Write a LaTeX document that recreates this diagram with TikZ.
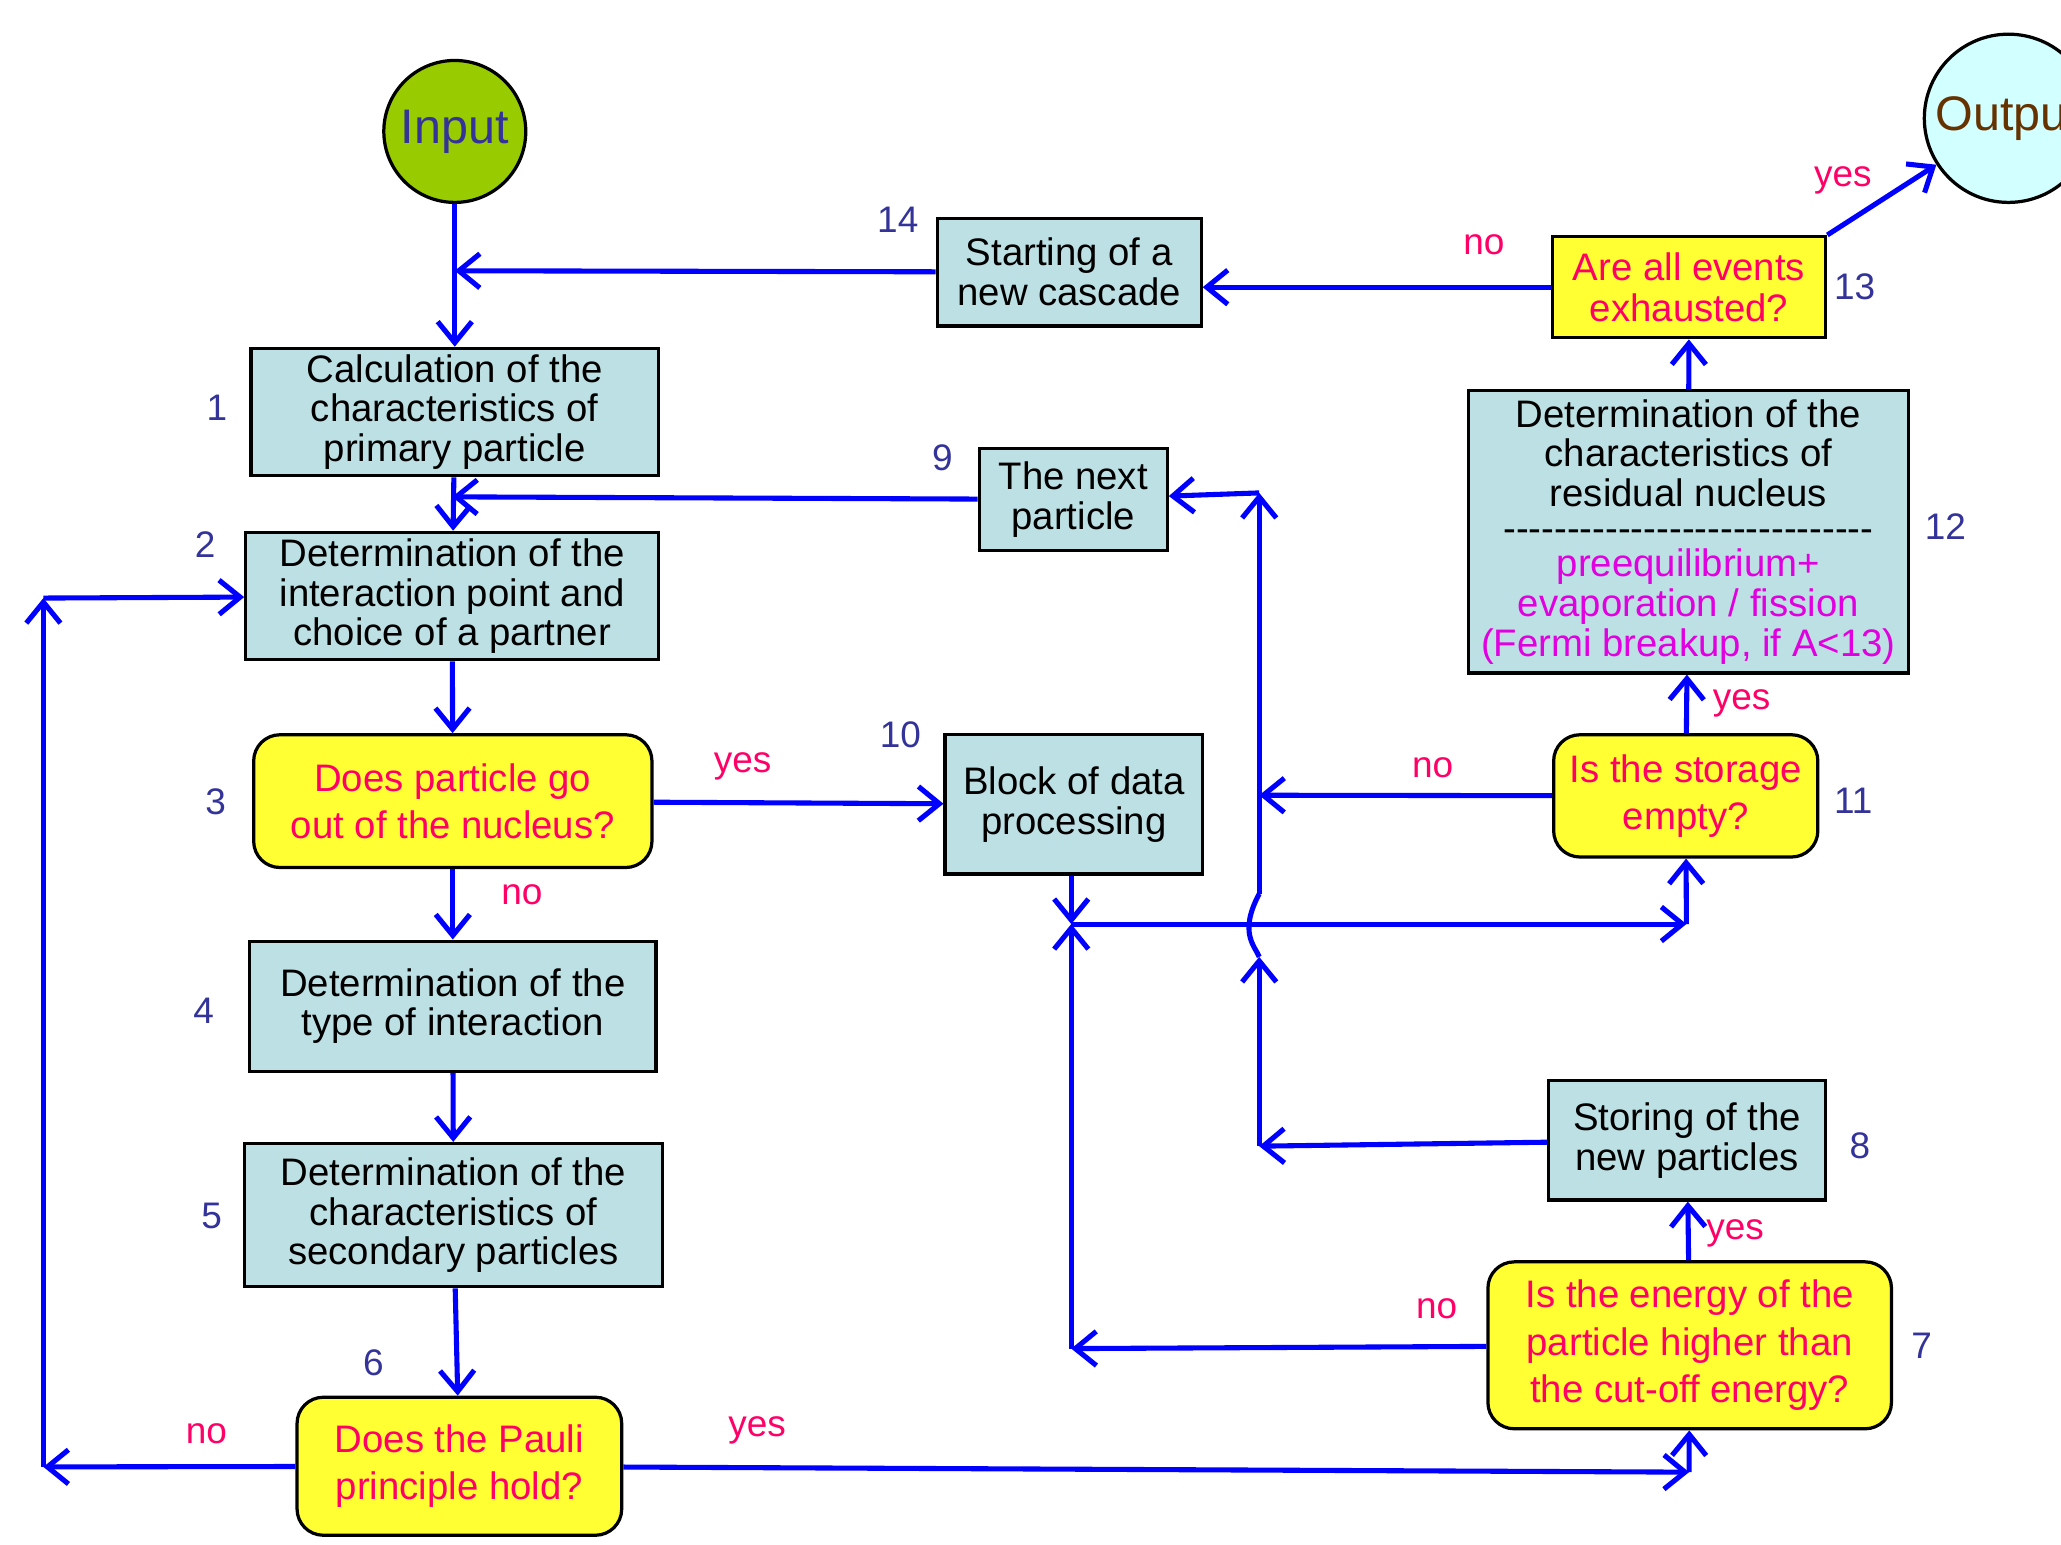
\documentclass[tikz,border=0pt]{standalone}
\usepackage{fontspec}
\setmainfont{Liberation Sans}
\usetikzlibrary{arrows.meta}
\definecolor{boxfill}{HTML}{BCE0E3}
\definecolor{decfill}{HTML}{FFFF33}
\definecolor{lblred}{HTML}{FF0066}
\definecolor{numblue}{HTML}{333399}
\definecolor{lineblue}{HTML}{0000FF}
\definecolor{magtext}{HTML}{E000E0}
\tikzset{
 box/.style={draw=black, line width=0.7pt, fill=boxfill, align=center, inner sep=0pt, font=\fontsize{8.3}{8.6}\selectfont},
 dec/.style={draw=black, line width=0.7pt, fill=decfill, rounded corners=0.2cm, align=center, inner sep=0pt, text=lblred, font=\fontsize{8.3}{10.3}\selectfont},
 num/.style={text=numblue, font=\fontsize{8}{9}\selectfont},
 lbl/.style={text=lblred, font=\fontsize{8}{9}\selectfont},
 conn/.style={draw=lineblue, line width=1.1pt, -{Straight Barb[length=1.6mm,width=2.6mm]}},
 plain/.style={draw=lineblue, line width=1.1pt},
}
\begin{document}
\begin{tikzpicture}
\useasboundingbox (0,0) rectangle (15.68,-11.75);
\node[circle, draw=black, line width=0.7pt, fill={rgb,255:red,153;green,204;blue,0}, minimum size=1.08cm, inner sep=0pt, text=numblue, font=\fontsize{10.5}{12}\selectfont] (in) at (3.46,-1.00) {Input};
\node[circle, draw=black, line width=0.7pt, fill={rgb,255:red,210;green,255;blue,255}, minimum size=1.28cm, inner sep=0pt, text={rgb,255:red,102;green,51;blue,0}, font=\fontsize{10.5}{12}\selectfont] (out) at (15.28,-0.90) {Output};

\node[box, minimum width=3.10cm, minimum height=0.97cm] (b1) at (3.46,-3.135) {Calculation of the\\characteristics of\\primary particle};
\node[box, minimum width=3.14cm, minimum height=0.97cm] (b2) at (3.44,-4.535) {Determination of the\\interaction point and\\choice of a partner};
\node[dec, minimum width=3.03cm, minimum height=1.01cm] (d3) at (3.445,-6.095) {Does particle go\\out of the nucleus?};
\node[box, minimum width=3.09cm, minimum height=0.99cm] (b4) at (3.445,-7.655) {Determination of the\\type of interaction};
\node[box, minimum width=3.18cm, minimum height=1.09cm] (b5) at (3.45,-9.245) {Determination of the\\characteristics of\\secondary particles};
\node[dec, minimum width=2.47cm, minimum height=1.05cm] (d6) at (3.495,-11.155) {Does the Pauli\\principle hold?};
\node[box, minimum width=1.96cm, minimum height=1.06cm] (b10) at (8.17,-6.12) {Block of data\\processing};
\node[box, minimum width=1.43cm, minimum height=0.78cm] (b9) at (8.165,-3.80) {The next\\particle};
\node[box, minimum width=2.01cm, minimum height=0.82cm] (b14) at (8.135,-2.07) {Starting of a\\new cascade};
\node[dec, rounded corners=0pt, minimum width=2.08cm, minimum height=0.77cm, font=\fontsize{8.3}{9}\selectfont] (d13) at (12.85,-2.185) {Are all events\\exhausted?};
\node[box, minimum width=3.35cm, minimum height=2.15cm] (b12) at (12.845,-4.045) {Determination of the\\characteristics of\\residual nucleus\\[-1pt]-{}-{}-{}-{}-{}-{}-{}-{}-{}-{}-{}-{}-{}-{}-{}-{}-{}-{}-{}-{}-{}-{}-{}-{}-{}-{}-{}-{}-\\[-1pt]\textcolor{magtext}{preequilibrium+}\\\textcolor{magtext}{evaporation / fission}\\\textcolor{magtext}{(Fermi breakup, if A<13)}};
\node[dec, minimum width=2.01cm, minimum height=0.93cm] (d11) at (12.825,-6.055) {Is the storage\\empty?};
\node[box, minimum width=2.11cm, minimum height=0.91cm] (b8) at (12.835,-8.675) {Storing of the\\new particles};
\node[dec, minimum width=3.07cm, minimum height=1.27cm] (d7) at (12.855,-10.235) {Is the energy of the\\particle higher than\\the cut-off energy?};

\node[num] (n1) at (1.65,-3.10) {1};
\node[num] (n2) at (1.56,-4.14) {2};
\node[num] (n3) at (1.64,-6.10) {3};
\node[num] (n4) at (1.55,-7.69) {4};
\node[num] (n5) at (1.61,-9.25) {5};
\node[num] (n6) at (2.84,-10.37) {6};
\node[num] (n7) at (14.62,-10.24) {7};
\node[num] (n8) at (14.15,-8.72) {8};
\node[num] (n9) at (7.17,-3.48) {9};
\node[num] (n10) at (6.85,-5.59) {10};
\node[num] (n11) at (14.10,-6.09) {11};
\node[num] (n12) at (14.80,-4.01) {12};
\node[num] (n13) at (14.11,-2.18) {13};
\node[num] (n14) at (6.83,-1.67) {14};

\node[lbl] (l1) at (5.65,-5.83) {yes};
\node[lbl] (l2) at (3.97,-6.81) {no};
\node[lbl] (l3) at (1.57,-10.91) {no};
\node[lbl] (l4) at (5.76,-10.88) {yes};
\node[lbl] (l5) at (10.93,-9.96) {no};
\node[lbl] (l6) at (13.20,-9.38) {yes};
\node[lbl] (l7) at (10.90,-5.84) {no};
\node[lbl] (l8) at (13.25,-5.35) {yes};
\node[lbl] (l9) at (11.29,-1.86) {no};
\node[lbl] (l10) at (14.02,-1.37) {yes};

\coordinate (c14) at (3.46,-2.06);
\coordinate (c9) at (3.44,-3.78);
\coordinate (cl1) at (0.33,-11.16);
\coordinate (cl2) at (0.33,-4.55);
\coordinate (cr1) at (12.85,-11.20);
\coordinate (cm1) at (8.15,-10.26);
\coordinate (cx) at (8.15,-7.03);
\coordinate (cr2) at (12.83,-7.03);
\coordinate (cv1) at (9.58,-8.72);
\coordinate (cv2) at (9.58,-7.28);
\coordinate (cv3) at (9.58,-6.80);
\coordinate (cv4) at (9.58,-3.75);
\coordinate (cv5) at (9.58,-6.05);
\coordinate (c13) at (9.15,-2.185);

\draw[conn] (in) -- (b1);
\draw[conn] (b14) -- (c14);
\draw[conn] (d13.west) -- (c13);
\draw[conn] (d13.north east) -- (out);
\draw[conn] (b12) -- (d13);
\draw[conn] (d11) -- (b12);
\draw[conn] (b1) -- (b2);
\draw[conn] (b9) -- (c9);
\draw[conn] (b2) -- (d3);
\draw[conn] (d3) -- (b10);
\draw[conn] (d3) -- (b4);
\draw[conn] (b4) -- (b5);
\draw[conn] (b5) -- (d6);
\draw[conn] (d6) -- (cl1);
\draw[conn] (cl1) -- (cl2);
\draw[conn] (cl2) -- (b2);
\draw[conn] (d6) -- (cr1);
\draw[conn] (cr1) -- (d7);
\draw[conn] (d7) -- (b8);
\draw[conn] (d7) -- (cm1);
\draw[conn] (cm1) -- (cx);
\draw[conn] (b10.south -| cx) -- (cx);
\draw[conn] (cx) -- (cr2);
\draw[conn] (cr2) -- (d11);
\draw[conn] (b8) -- (cv1);
\draw[conn] (cv1) -- (cv2);
\draw[plain] (cv3) .. controls (9.42,-7.10) and (9.55,-7.20) .. (cv2);
\draw[conn] (cv3) -- (cv4);
\draw[conn] (cv4) -- (b9);
\draw[conn] (d11) -- (cv5);
\end{tikzpicture}
\end{document}
